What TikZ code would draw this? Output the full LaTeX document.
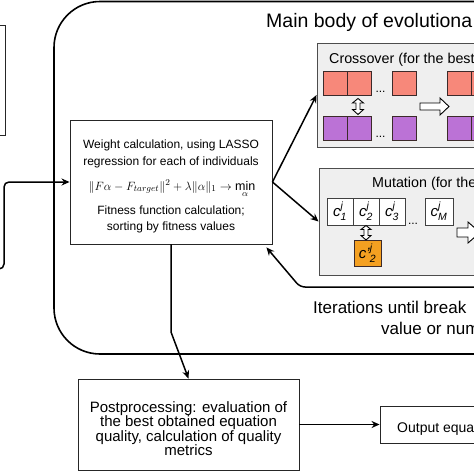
\documentclass[tikz,border=0pt]{standalone}
\usepackage{fontspec}
\setmainfont{Liberation Sans}
\usetikzlibrary{arrows.meta}
\definecolor{salmon}{HTML}{F7887A}
\definecolor{violet2}{HTML}{BB72D6}
\definecolor{orng}{HTML}{F4A021}
\definecolor{panel}{HTML}{EFEFEF}
\definecolor{panelline}{HTML}{4D4D4D}
\definecolor{sqline}{HTML}{3C2A2A}
\newcommand{\cellc}[2]{{\itshape #1}$^{\mbox{\fontsize{10.5}{10.5}\selectfont\itshape j}}_{\mbox{\fontsize{10.5}{10.5}\selectfont\itshape #2}}$}
\begin{document}
\begin{tikzpicture}[x=1pt,y=-1pt,
  box/.style={draw=black!85, line width=0.9pt, fill=white, rectangle, inner sep=0pt},
  panelbox/.style={draw=panelline, line width=0.9pt, fill=panel, rectangle, inner sep=0pt},
  sq/.style={draw=sqline, line width=0.8pt, rectangle, minimum width=24pt, minimum height=24pt, inner sep=0pt},
  cellbox/.style={draw=black!75, line width=0.8pt, fill=white, rectangle, minimum width=26pt, minimum height=27pt, inner sep=0pt, font=\fontsize{15}{15}\selectfont},
  conn/.style={line width=1.5pt, -{Stealth[length=8pt,width=7pt]}},
  ltext/.style={inner sep=0pt, anchor=base west},
  ctext/.style={inner sep=0pt, anchor=base},
  blockarrow/.style={draw=black, line width=0.9pt, fill=white, line join=miter}
]
\useasboundingbox (0,0) rectangle (474,474);
\clip (0,0) rectangle (474,474);
\fill[white] (0,0) rectangle (474,474);

% main body frame
\draw[line width=1.6pt, rounded corners=46pt] (54,1.5) rectangle (560,354);
\node[ltext, font=\fontsize{19.5}{20}\selectfont] (title) at (266,27) {Main body of evolutiona};

% left box (cut off)
\node[box, minimum width=40pt, minimum height=110pt] (leftbox) at (-15,80) {};

% weight box
\node[box, minimum width=202pt, minimum height=124pt] (wbox) at (171,182) {};
\node[ctext, font=\fontsize{12}{12}\selectfont] (w1) at (171,148) {Weight calculation, using LASSO};
\node[ctext, font=\fontsize{12}{12}\selectfont] (w2) at (171,165) {regression for each of individuals};
\node[ctext, font=\fontsize{12.5}{12.5}\selectfont] (w3) at (172,190) {$\|F\alpha - F_{target}\|^2 + \lambda\|\alpha\|_1 \rightarrow \min\limits_{\alpha}$};
\node[ctext, font=\fontsize{12}{12}\selectfont] (w4) at (171,214.5) {Fitness function calculation;};
\node[ctext, font=\fontsize{12}{12}\selectfont] (w5) at (171,230.5) {sorting by fitness values};

% crossover panel
\node[panelbox, minimum width=243pt, minimum height=104pt] (cross) at (438.5,95) {};
\node[ltext, font=\fontsize{14.3}{15}\selectfont] (ctitle) at (329,63) {Crossover (for the best};
\node[sq, fill=salmon] (r1) at (335,83) {};
\node[sq, fill=salmon] (r2) at (359,83) {};
\node[sq, fill=salmon] (r3) at (404.5,83) {};
\node[sq, fill=salmon] (r4) at (459.5,83) {};
\node[sq, fill=salmon] (r5) at (483.5,83) {};
\node[sq, fill=violet2] (p1) at (335,128.5) {};
\node[sq, fill=violet2] (p2) at (359,128.5) {};
\node[sq, fill=violet2] (p3) at (404.5,128.5) {};
\node[sq, fill=violet2] (p4) at (459.5,128.5) {};
\node[sq, fill=violet2] (p5) at (483.5,128.5) {};
\node[ctext, font=\fontsize{12}{12}\selectfont] (rdots) at (380.5,92) {...};
\node[ctext, font=\fontsize{12}{12}\selectfont] (pdots) at (380.5,137.5) {...};
% vertical double block arrow (crossover)
\draw[blockarrow] (358,98.5) -- (363.5,103) -- (360,103) -- (360,109.5) -- (363.5,109.5) -- (358,114.5) -- (352.5,109.5) -- (356,109.5) -- (356,103) -- (352.5,103) -- cycle;
% right block arrow (crossover)
\draw[blockarrow] (420,103) -- (440,103) -- (440,98) -- (449,106.5) -- (440,115) -- (440,110) -- (420,110) -- cycle;

% mutation panel
\node[panelbox, minimum width=241pt, minimum height=107pt] (mut) at (439.5,221.5) {};
\node[ltext, font=\fontsize{14.3}{15}\selectfont] (mtitle) at (372,187) {Mutation (for the};
\node[cellbox] (m1) at (340,211.5) {\cellc{c}{1}};
\node[cellbox] (m2) at (366,211.5) {\cellc{c}{2}};
\node[cellbox] (m3) at (392,211.5) {\cellc{c}{3}};
\node[cellbox, minimum width=28pt] (mM) at (439,211.5) {\cellc{c}{M}};
\node[ctext, font=\fontsize{12}{12}\selectfont] (mdots) at (413,224) {...};
\node[cellbox, fill=orng, draw=sqline, minimum width=27pt, minimum height=26pt] (mo) at (367.5,253) {\cellc{c'}{2}};
% vertical double block arrow (mutation)
\draw[blockarrow] (366,225.5) -- (371,229.5) -- (368,229.5) -- (368,235.5) -- (371,235.5) -- (366,240) -- (361,235.5) -- (364,235.5) -- (364,229.5) -- (361,229.5) -- cycle;
% right block arrow (mutation, cut off)
\draw[blockarrow] (457,228) -- (468,228) -- (468,222) -- (480,232.5) -- (468,243) -- (468,237) -- (457,237) -- cycle;

% iterations text
\node[ltext, font=\fontsize{17}{17}\selectfont] (it1) at (313,313) {Iterations until break};
\node[ltext, font=\fontsize{17}{17}\selectfont] (it2) at (381,334) {value or num};

% postprocessing
\node[box, minimum width=221pt, minimum height=91pt] (post) at (188.5,424.5) {};
\node[ctext, font=\fontsize{15}{15}\selectfont] (q1) at (188.5,412) {Postprocessing: evaluation of};
\node[ctext, font=\fontsize{15}{15}\selectfont] (q2) at (188.5,426.5) {the best obtained equation};
\node[ctext, font=\fontsize{15}{15}\selectfont] (q3) at (188.5,441) {quality, calculation of quality};
\node[ctext, font=\fontsize{15}{15}\selectfont] (q4) at (188.5,455.5) {metrics};

% output
\node[box, minimum width=140pt, minimum height=37pt] (out) at (450,424.5) {};
\node[ltext, font=\fontsize{14}{14}\selectfont] (otext) at (397,432) {Output equa};

% connectors
\coordinate (lin) at (-10,269);
\draw[conn, rounded corners=5pt] (lin) -- (4,269) -- (4,182) -- (wbox.west);
\draw[conn] (wbox.east) -- (cross.west);
\draw[conn] (wbox.east) -- (mut.west);
\coordinate (rin) at (490,287);
\draw[conn, rounded corners=5pt] (rin) -- (300,287) -- ([shift={(-6,3)}]wbox.south east);
\draw[conn] (wbox.south) -- (171,332) -- (post.north);
\draw[conn] (post.east) -- (out.west);
\end{tikzpicture}
\end{document}
